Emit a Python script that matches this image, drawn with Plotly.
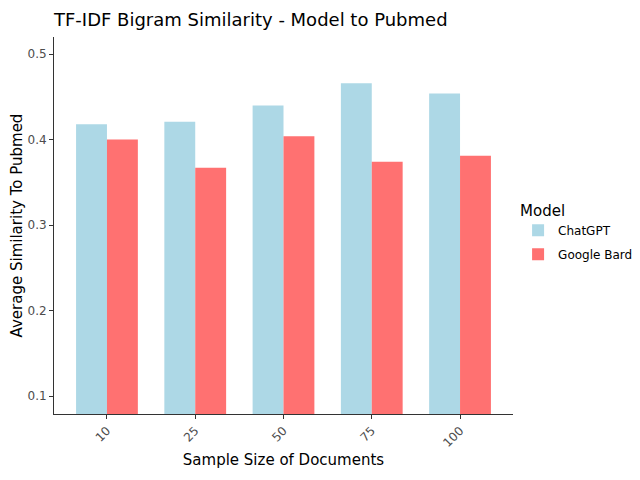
import plotly.graph_objects as go

sample_sizes = ["10", "25", "50", "75", "100"]
chatgpt = [0.418, 0.421, 0.440, 0.466, 0.454]
google_bard = [0.400, 0.367, 0.404, 0.374, 0.381]

fig = go.Figure()
fig.add_trace(go.Bar(x=sample_sizes, y=chatgpt, name="ChatGPT", legendgroup="a",
                     marker=dict(color="#ADD8E6", line_width=0)))
fig.add_trace(go.Bar(x=sample_sizes, y=google_bard, name="Google Bard", legendgroup="b",
                     marker=dict(color="#FF7171", line_width=0)))

axis_style = dict(
    showline=True, linecolor="#333333", linewidth=1,
    ticks="outside", ticklen=4, tickcolor="#333333",
    showgrid=False, zeroline=False, automargin=False,
    tickfont=dict(size=12, color="#4d4d4d"),
    title_font=dict(size=15, color="black"),
)

# page body adds an 8px offset, so margins are shifted back by that
fig.update_layout(
    width=640, height=480,
    barmode="group", bargap=0.3, bargroupgap=0,
    font=dict(family="DejaVu Sans"),
    title=dict(text="TF-IDF Bigram Similarity - Model to Pubmed", x=46 / 640, xanchor="left",
               y=0.988, yanchor="top", pad=dict(t=0), font=dict(size=18, color="black")),
    plot_bgcolor="white", paper_bgcolor="white",
    margin=dict(l=46, r=135, t=29, b=74),
    legend=dict(title=dict(text="Model", font=dict(size=15, color="black")),
                xref="container", yref="container",
                x=0.797, xanchor="left", y=0.608, yanchor="top",
                tracegroupgap=5, itemwidth=30,
                font=dict(size=12, color="black")),
)
fig.update_xaxes(title_text="Sample Size of Documents", tickangle=-45,
                 range=[-0.6, 4.6], title_standoff=5, **axis_style)
fig.update_yaxes(title_text="Average Similarity To Pubmed", range=[0.079, 0.52],
                 tickvals=[0.1, 0.2, 0.3, 0.4, 0.5], title_standoff=14, **axis_style)

fig.write_html("out.html")
